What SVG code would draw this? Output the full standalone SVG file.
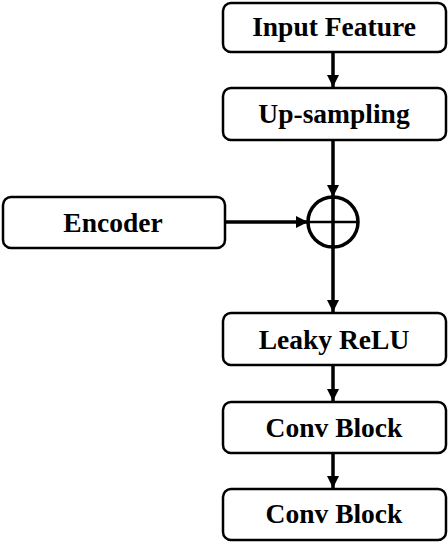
<svg xmlns="http://www.w3.org/2000/svg" width="448" height="542" viewBox="0 0 448 542">
<style>
.box{fill:#fff;stroke:#000;stroke-width:2.5}
.lbl{font-family:"Liberation Serif","Times New Roman",serif;font-weight:bold;font-size:27.5px;text-anchor:middle;fill:#000}
.wire{stroke:#000;stroke-width:3.5;fill:none}
</style>
<defs>
<marker id="ah" markerUnits="userSpaceOnUse" markerWidth="14" markerHeight="14" refX="12" refY="6" orient="auto">
<path d="M0,0 L12,6 L0,12 Z" fill="#000"/>
</marker>
</defs>
<rect width="448" height="542" fill="#fff"/>
<g id="connectors">
<line class="wire" x1="333" y1="52" x2="333" y2="87" marker-end="url(#ah)"/>
<line class="wire" x1="333" y1="140" x2="333" y2="197" marker-end="url(#ah)"/>
<line class="wire" x1="225" y1="222" x2="308" y2="222" marker-end="url(#ah)"/>
<line class="wire" x1="333" y1="247" x2="333" y2="312" marker-end="url(#ah)"/>
<line class="wire" x1="333" y1="365" x2="333" y2="401" marker-end="url(#ah)"/>
<line class="wire" x1="333" y1="453" x2="333" y2="488" marker-end="url(#ah)"/>
</g>
<g id="input-feature">
<rect class="box" x="223" y="3" width="223" height="49" rx="8"/>
<text class="lbl" x="334" y="36">Input Feature</text>
</g>
<g id="up-sampling">
<rect class="box" x="223" y="88" width="223" height="52" rx="8"/>
<text class="lbl" x="334" y="123">Up-sampling</text>
</g>
<g id="encoder">
<rect class="box" x="3" y="197" width="222" height="51" rx="8"/>
<text class="lbl" x="113" y="232">Encoder</text>
</g>
<g id="sum">
<circle cx="333" cy="222" r="25" fill="#fff" stroke="#000" stroke-width="3.5"/>
<line x1="308" y1="222" x2="358" y2="222" stroke="#000" stroke-width="2.5"/>
<line x1="333" y1="197" x2="333" y2="247" stroke="#000" stroke-width="3.5"/>
</g>
<g id="leaky-relu">
<rect class="box" x="223" y="313" width="223" height="52" rx="8"/>
<text class="lbl" x="334" y="349">Leaky ReLU</text>
</g>
<g id="conv-block-1">
<rect class="box" x="223" y="402" width="223" height="51" rx="8"/>
<text class="lbl" x="334" y="437">Conv Block</text>
</g>
<g id="conv-block-2">
<rect class="box" x="223" y="489" width="223" height="51" rx="8"/>
<text class="lbl" x="334" y="523">Conv Block</text>
</g>
</svg>
